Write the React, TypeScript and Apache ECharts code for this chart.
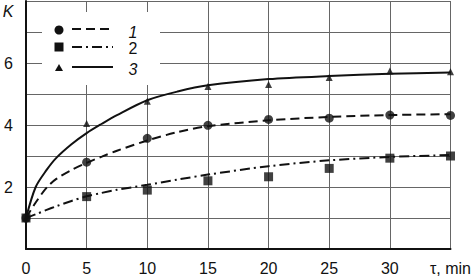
import React, { useEffect, useRef } from "react";
import * as echarts from "echarts";

const pointT = [0, 5, 10, 15, 20, 25, 30, 35];
const pointsK1 = [1, 2.8, 3.57, 3.99, 4.18, 4.22, 4.32, 4.31];
const pointsK2 = [1, 1.69, 1.9, 2.2, 2.33, 2.6, 2.93, 3.0];
const pointsK3 = [1, 4.05, 4.77, 5.24, 5.31, 5.53, 5.74, 5.72];

const curveT = [0, 0.8, 1.7, 2.5, 3.75, 5, 6.25, 7.5, 10, 12.5, 15, 20, 25, 30, 35];
const curveK1 = [1, 1.5, 1.98, 2.26, 2.55, 2.78, 2.98, 3.17, 3.5, 3.77, 3.96, 4.15, 4.26, 4.32, 4.35];
const curveK2 = [1, 1.12, 1.26, 1.38, 1.55, 1.7, 1.81, 1.91, 2.07, 2.24, 2.4, 2.67, 2.86, 2.97, 3.03];
const curveK3 = [1, 2.0, 2.55, 2.94, 3.38, 3.74, 4.04, 4.32, 4.8, 5.08, 5.28, 5.48, 5.58, 5.65, 5.69];

const xTickLabels = ["0", "5", "10", "15", "20", "25", "30", "τ, min"];
const yTickLabels: Record<number, string> = { 2: "2", 4: "4", 6: "6" };
const legendLabels = ["1", "2", "3"];
const yAxisTitle = "K";

const FONT = "Liberation Sans, Arial, sans-serif";
const INK = "#111";

const pairs = (xs: number[], ys: number[]) => xs.map((x, i) => [x, ys[i]]);

export default function App() {
  const ref = useRef<HTMLDivElement>(null);
  useEffect(() => {
    if (!ref.current) return;
    const chart = echarts.init(ref.current, undefined, { renderer: "svg" });
    const lineBase = { type: "line", smooth: 0.3, showSymbol: false, silent: true };
    chart.setOption({
      animation: false,
      backgroundColor: "#fff",
      grid: { left: 26, right: 22, top: 1, bottom: 27 },
      xAxis: {
        type: "value",
        min: 0,
        max: 35,
        interval: 5,
        axisLine: { show: true, onZero: false, lineStyle: { color: INK, width: 2 } },
        axisTick: { show: false },
        splitLine: { show: true, lineStyle: { color: "#666", width: 1 } },
        axisLabel: {
          margin: 11,
          fontSize: 16,
          fontFamily: FONT,
          color: INK,
          showMaxLabel: true,
          formatter: (v: number) => xTickLabels[Math.round(v / 5)] ?? "",
        },
      },
      yAxis: {
        type: "value",
        min: 0,
        max: 8,
        interval: 1,
        axisLine: { show: true, onZero: false, lineStyle: { color: INK, width: 2 } },
        axisTick: { show: false },
        splitLine: { show: true, lineStyle: { color: "#666", width: 1 } },
        axisLabel: {
          margin: 13,
          fontSize: 16,
          fontFamily: FONT,
          color: INK,
          padding: [6, 0, 0, 0],
          formatter: (v: number) => yTickLabels[v] ?? "",
        },
      },
      series: [
        { ...lineBase, name: "1 fit", data: pairs(curveT, curveK1), lineStyle: { color: INK, width: 2, type: [9, 5] } },
        { ...lineBase, name: "2 fit", data: pairs(curveT, curveK2), lineStyle: { color: INK, width: 2, type: [10, 4, 2, 4] } },
        { ...lineBase, name: "3 fit", data: pairs(curveT, curveK3), lineStyle: { color: INK, width: 2 } },
        { type: "scatter", name: "1", symbol: "circle", symbolSize: 9, data: pairs(pointT, pointsK1), itemStyle: { color: INK }, z: 5 },
        { type: "scatter", name: "2", symbol: "rect", symbolSize: 9, data: pairs(pointT, pointsK2), itemStyle: { color: INK }, z: 5 },
        { type: "scatter", name: "3", symbol: "triangle", symbolSize: 7, data: pairs(pointT, pointsK3), itemStyle: { color: INK }, z: 5 },
      ],
      graphic: [
        { type: "rect", z: 100, shape: { x: 42, y: 12, width: 118, height: 73 }, style: { fill: "#fff" } },
        { type: "circle", z: 101, shape: { cx: 59, cy: 30, r: 4.5 }, style: { fill: INK } },
        { type: "rect", z: 101, shape: { x: 54.5, y: 42.5, width: 9, height: 9 }, style: { fill: INK } },
        { type: "polygon", z: 101, shape: { points: [[59, 64], [63, 71], [55, 71]] }, style: { fill: INK } },
        { type: "line", z: 101, shape: { x1: 72, y1: 29, x2: 112, y2: 29 }, style: { stroke: INK, lineWidth: 2, lineDash: [9, 5] } },
        { type: "line", z: 101, shape: { x1: 72, y1: 47, x2: 113, y2: 47 }, style: { stroke: INK, lineWidth: 2, lineDash: [10, 4, 2, 4] } },
        { type: "line", z: 101, shape: { x1: 72, y1: 67, x2: 113, y2: 67 }, style: { stroke: INK, lineWidth: 2 } },
        ...legendLabels.map((t, i) => ({
          type: "text",
          z: 101,
          x: 133,
          y: [32, 48, 69][i],
          style: { text: t, fill: INK, font: `${i === 1 ? "normal" : "italic"} 16px ${FONT}`, align: "center", verticalAlign: "middle" },
        })),
        { type: "text", z: 101, x: 8, y: 11, style: { text: yAxisTitle, fill: INK, font: `italic 16px ${FONT}`, align: "center", verticalAlign: "middle" } },
      ],
    });
    return () => chart.dispose();
  }, []);
  return <div ref={ref} style={{ width: 474, height: 276, position: "absolute", left: 0, top: 0 }} />;
}
